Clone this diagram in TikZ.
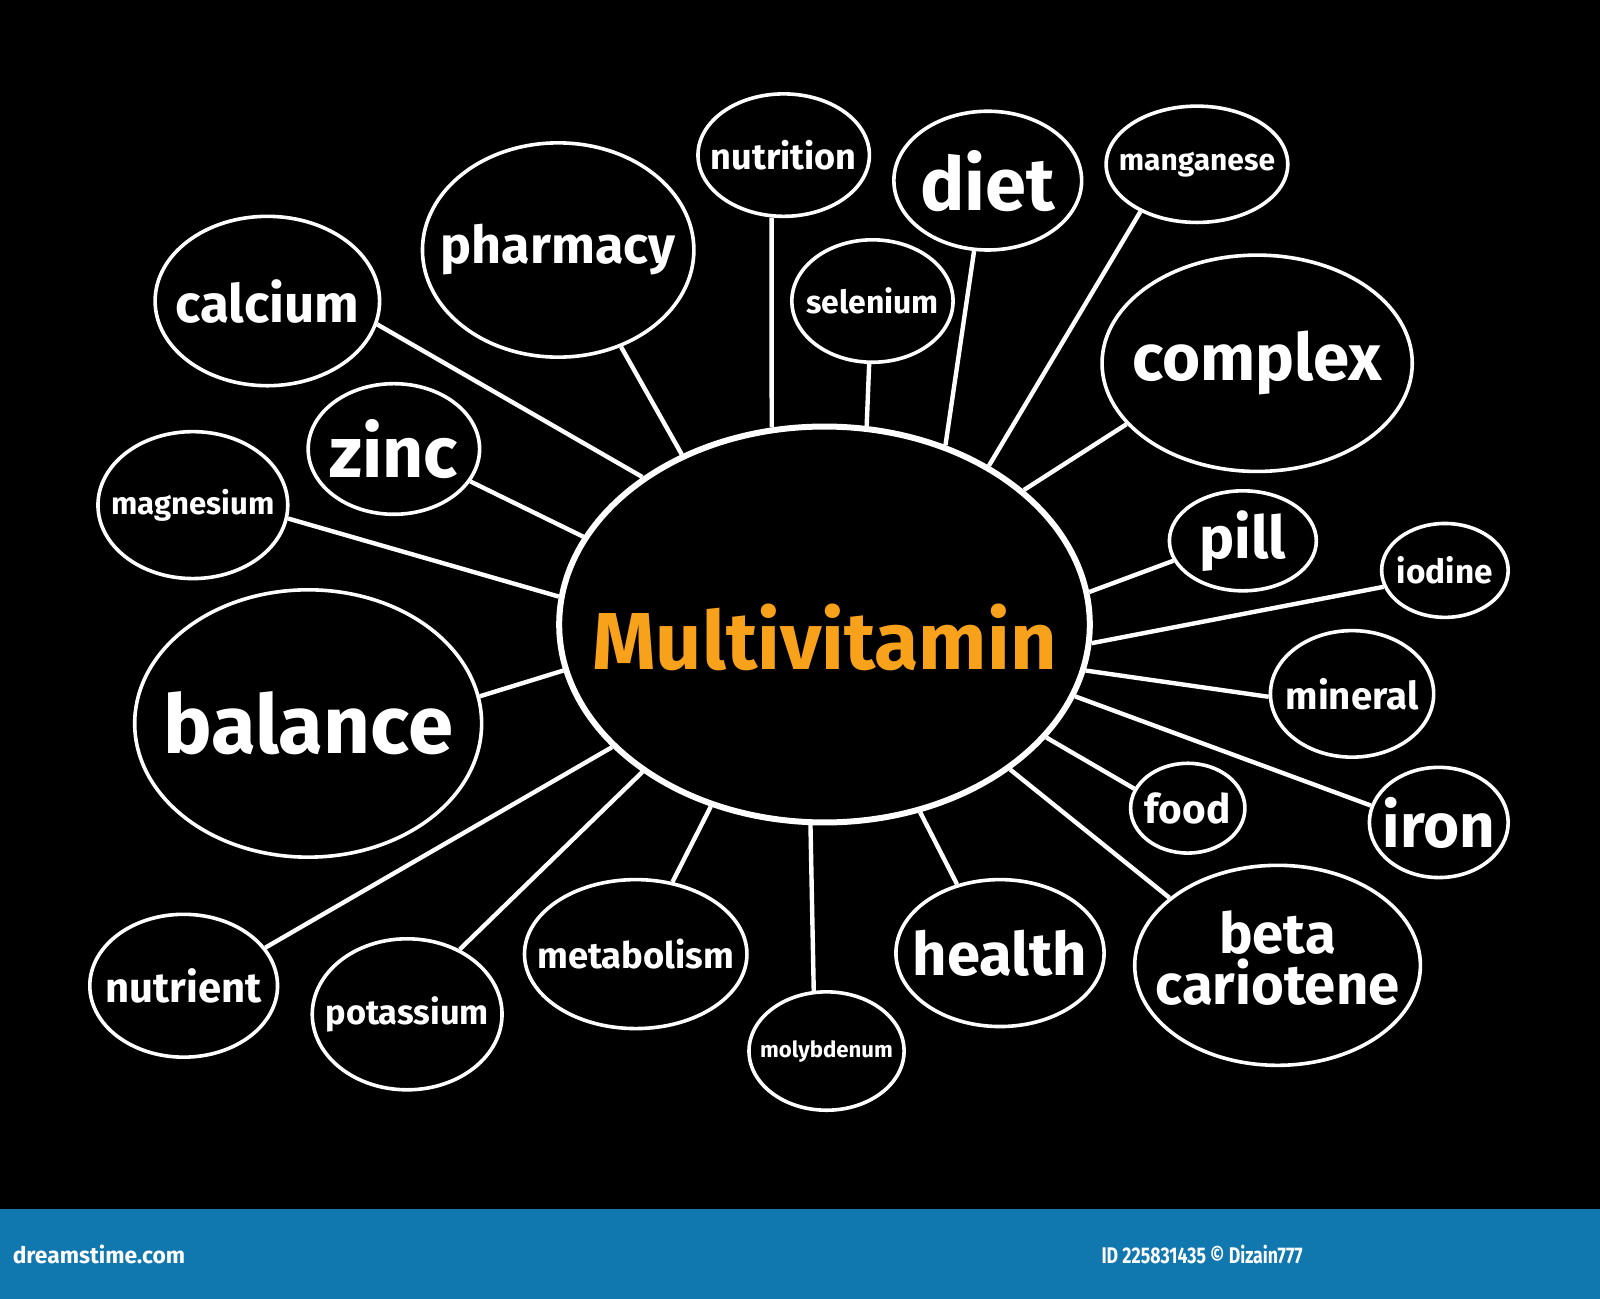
\documentclass[tikz,border=0pt]{standalone}
\usepackage{fontspec}
\setmainfont{Fira Sans}
\usetikzlibrary{shapes.geometric}
\newlength{\pxu}\setlength{\pxu}{0.5102pt}
\definecolor{bandblue}{RGB}{17,119,175}
\definecolor{vitorange}{RGB}{248,162,28}
\tikzset{
 bub/.style 2 args={ellipse, draw=white, line width=1.8pt, fill=black, minimum width=#1*0.5102pt, minimum height=#2*0.5102pt, inner sep=0pt},
 txt/.style={text=white, inner sep=0pt, font=\bfseries},
 link/.style={draw=white, line width=2.2pt},
}
\newcommand{\bubble}[7]{%
 \node[bub={#4}{#5}] (#1) at (#2,#3) {};
 \node[txt] (#1t) at (#1.center) {\resizebox{#6\pxu}{!}{#7}};}
\begin{document}
\begin{tikzpicture}[x=0.5102pt,y=-0.5102pt]
\useasboundingbox (0,0) rectangle (1568,1273);
\fill[black] (0,0) rectangle (1568,1185);
\fill[bandblue] (0,1185) rectangle (1568,1273);
\node[text=white, inner sep=0pt, font=\bfseries] (brand) at (97,1229) {\resizebox{169\pxu}{!}{dreamstime.com}};
\node[text=white, inner sep=0pt, font=\bfseries] (idtxt) at (1178,1229) {\resizebox{197\pxu}{18\pxu}{ID 225831435 © Dizain777}};

\node[bub={520}{388}, line width=3pt] (mv) at (808,612) {};
\node[text=vitorange, inner sep=0pt, font=\bfseries] (mvt) at (808,625) {\resizebox{455\pxu}{!}{Multivitamin}};

\bubble{calcium}{262}{295}{220}{166}{180}{calcium}
\bubble{pharmacy}{547}{245}{266}{210}{230}{pharmacy}
\bubble{nutrition}{768}{152}{168}{120}{143}{nutrition}
\bubble{diet}{968}{177}{184}{136}{132}{diet}
\bubble{manganese}{1173}{161}{178}{114}{153}{manganese}
\bubble{selenium}{855}{295}{158}{120}{130}{selenium}
\bubble{complex}{1232}{356}{304}{212}{245}{complex}
\bubble{zinc}{386}{440}{168}{128}{126}{zinc}
\bubble{magnesium}{189}{495}{186}{144}{160}{magnesium}
\bubble{pill}{1218}{530}{144}{98}{85}{pill}
\bubble{iodine}{1416}{559}{124}{92}{94}{iodine}
\bubble{balance}{302}{709}{340}{262}{284}{balance}
\bubble{mineral}{1325}{680}{160}{124}{130}{mineral}
\bubble{food}{1164}{792}{112}{88}{84}{food}
\bubble{iron}{1410}{806}{136}{108}{110}{iron}
\bubble{beta}{1252}{946}{280}{196}{239}{\begin{tabular}{@{}c@{}}beta\\[-3pt]cariotene\end{tabular}}
\bubble{health}{980}{934}{204}{144}{171}{health}
\bubble{molybdenum}{810}{1030}{152}{116}{130}{molybdenum}
\bubble{metabolism}{623}{935}{218}{146}{193}{metabolism}
\bubble{potassium}{399}{994}{186}{148}{160}{potassium}
\bubble{nutrient}{180}{966}{184}{140}{153}{nutrient}

\draw[link] (mv.141) -- (calcium.-12);
\draw[link] (mv.130) -- (pharmacy.-57);
\draw[link] (mv.105) -- (nutrition.-101);
\draw[link] (mv.78) -- (selenium.-93);
\draw[link] (mv.56) -- (diet.-101);
\draw[link] (mv.44) -- (manganese.-140);
\draw[link] (mv.34) -- (complex.-155);
\draw[link] (mv.7) -- (pill.-164);
\draw[link] (mv.-4) -- (iodine.-165);
\draw[link] (mv.-10) -- (mineral.-178);
\draw[link] (mv.-16) -- (iron.166);
\draw[link] (mv.-27) -- (food.160);
\draw[link] (mv.-38) -- (beta.148);
\draw[link] (mv.-63) -- (health.122);
\draw[link] (mv.-94) -- (molybdenum.102);
\draw[link] (mv.-122) -- (metabolism.63);
\draw[link] (mv.-141) -- (potassium.51);
\draw[link] (mv.-150) -- (nutrient.25);
\draw[link] (mv.-170) -- (balance.9);
\draw[link] (mv.174) -- (magnesium.-8);
\draw[link] (mv.160) -- (zinc.-23);
\end{tikzpicture}
\end{document}
